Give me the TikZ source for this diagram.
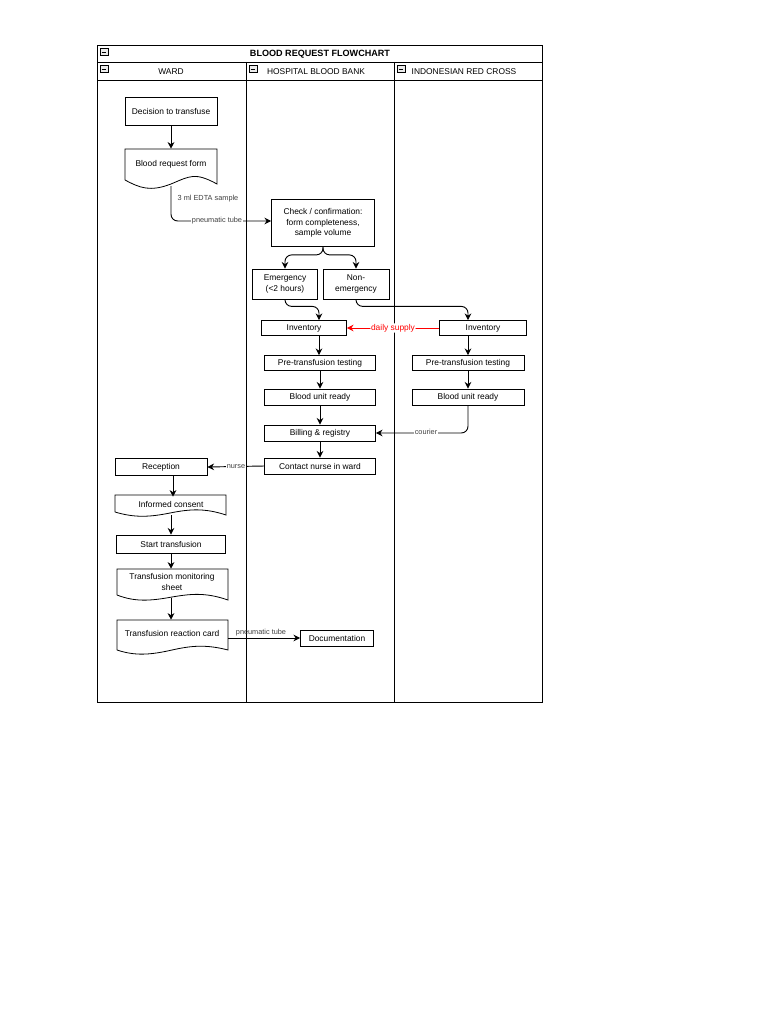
\documentclass[tikz,border=0pt]{standalone}
\usepackage{fontspec}
\setmainfont{Liberation Sans}
\usetikzlibrary{arrows.meta}
\begin{document}
\begin{tikzpicture}[x=0.75pt,y=-0.75pt,
  font=\fontsize{6.3}{7.8}\selectfont,
  box/.style={draw,line width=0.6pt,align=center,inner sep=1pt},
  doc/.style={align=center,inner sep=1pt},
  arr/.style={-{Stealth[length=5pt,width=5pt]},line width=0.7pt,rounded corners=5pt},
  lbl/.style={font=\fontsize{5.5}{6.5}\selectfont,text=black!75,fill=white,inner sep=0.5pt},
  icon/.style={draw,fill=black!8,minimum width=6pt,minimum height=5pt,inner sep=0pt,
    path picture={\draw ([xshift=1.2pt]path picture bounding box.west) -- ([xshift=-1.2pt]path picture bounding box.east);}}]
\useasboundingbox (0,0) rectangle (768,1024);
\fill[white] (0,0) rectangle (768,1024);
% frame
\draw[line width=0.7pt] (97,45) rectangle (542,702);
\draw[line width=0.6pt] (97,62) -- (542,62) (97,80) -- (542,80);
\draw[line width=0.7pt] (246,62) -- (246,702) (394,62) -- (394,702);
\node[font=\fontsize{6.8}{8}\selectfont\bfseries] (title) at (320,54) {BLOOD REQUEST FLOWCHART};
\node (hw) at (171,72) {WARD};
\node (hb) at (316,72) {HOSPITAL BLOOD BANK};
\node (hr) at (464,72) {INDONESIAN RED CROSS};
\node[icon] (i1) at (104,52) {};
\node[icon] (i2) at (104,69) {};
\node[icon] (i3) at (253,69) {};
\node[icon] (i4) at (401,69) {};
% ward nodes
\node[box,minimum width={92*0.75pt},minimum height={28*0.75pt}] (dec) at (171,111) {Decision to transfuse};
\node[doc,minimum width={92*0.75pt},minimum height={30*0.75pt}] (form) at (171,164) {Blood request form};
\draw[line width=0.6pt] (125,180) -- (125,149) -- (217,149) -- (217,184) .. controls (195,172) and (190,176) .. (171,184) .. controls (150,192) and (140,188) .. (125,180);
\node[box,minimum width={92*0.75pt},minimum height={17*0.75pt}] (rec) at (161,467) {Reception};
\node[doc,minimum width={111*0.75pt},minimum height={14*0.75pt}] (cons) at (171,504) {Informed consent};
\draw[line width=0.6pt] (115,512) -- (115,495) -- (226,495) -- (226,515) .. controls (205,508) and (190,509) .. (170,513) .. controls (150,517) and (135,518) .. (115,512);
\node[box,minimum width={109*0.75pt},minimum height={18*0.75pt}] (start) at (171,544) {Start transfusion};
\node[doc,minimum width={111*0.75pt},minimum height={26*0.75pt}] (mon) at (172,582) {Transfusion monitoring\\sheet};
\draw[line width=0.6pt] (117,595) -- (117,569) -- (228,569) -- (228,600) .. controls (205,592) and (190,594) .. (172,597) .. controls (150,601) and (135,602) .. (117,595);
\node[doc,minimum width={111*0.75pt},minimum height={26*0.75pt}] (card) at (172,633) {Transfusion reaction card};
\draw[line width=0.6pt] (117,650) -- (117,620) -- (228,620) -- (228,650) .. controls (205,644) and (190,646) .. (172,650) .. controls (150,655) and (135,656) .. (117,650);
% blood bank
\node[box,minimum width={103*0.75pt},minimum height={47*0.75pt}] (chk) at (323,223) {Check / confirmation:\\form completeness,\\sample volume};
\node[box,minimum width={65*0.75pt},minimum height={30*0.75pt}] (em) at (285,284) {Emergency\\(<2 hours)};
\node[box,minimum width={66*0.75pt},minimum height={30*0.75pt}] (nem) at (356,284) {Non-\\emergency};
\node[box,minimum width={85*0.75pt},minimum height={15*0.75pt}] (inv1) at (304,328) {Inventory};
\node[box,minimum width={111*0.75pt},minimum height={15*0.75pt}] (pre1) at (320,363) {Pre-transfusion testing};
\node[box,minimum width={111*0.75pt},minimum height={16*0.75pt}] (bur1) at (320,397) {Blood unit ready};
\node[box,minimum width={111*0.75pt},minimum height={16*0.75pt}] (bill) at (320,433) {Billing \& registry};
\node[box,minimum width={111*0.75pt},minimum height={16*0.75pt}] (cont) at (320,466) {Contact nurse in ward};
\node[box,minimum width={73*0.75pt},minimum height={16*0.75pt}] (docu) at (337,638) {Documentation};
% red cross
\node[box,minimum width={87*0.75pt},minimum height={15*0.75pt}] (inv2) at (483,328) {Inventory};
\node[box,minimum width={112*0.75pt},minimum height={15*0.75pt}] (pre2) at (468,363) {Pre-transfusion testing};
\node[box,minimum width={112*0.75pt},minimum height={16*0.75pt}] (bur2) at (468,397) {Blood unit ready};
% connectors
\draw[arr] (dec) -- (form);
\draw[arr] (171,186) -- (171,221) -- (chk.west |- 0,221);
\node[lbl] (l1) at (208,199) {3 ml EDTA sample};
\node[lbl] (l2) at (217,221) {pneumatic tube};
\draw[arr] (chk.south) -- ++(0,8) -| (em.north);
\draw[arr] (chk.south) -- ++(0,8) -| (nem.north);
\draw[arr] (em.south) -- ++(0,7) -| (inv1.north -| 319,0);
\draw[arr] (nem.south) -- ++(0,7) -| (inv2.north -| 468,0);
\draw[arr,red] (inv2.west) -- (inv1.east) node[midway,fill=white,inner sep=0.5pt,font=\fontsize{6.3}{7.5}\selectfont] {daily supply};
\draw[arr] (inv1.south -| 319,0) -- (pre1.north -| 319,0);
\draw[arr] (pre1) -- (bur1);
\draw[arr] (bur1) -- (bill);
\draw[arr] (bill) -- (cont);
\draw[arr] (inv2.south -| 468,0) -- (pre2);
\draw[arr] (pre2) -- (bur2);
\draw[arr] (bur2.south) |- (bill.east);
\node[lbl] (l3) at (426,432) {courier};
\draw[arr] (cont.west) -- (rec.east);
\node[lbl] (l4) at (236,467) {nurse};
\draw[arr] (rec.south -| 173,0) -- (cons.north -| 173,0);
\draw[arr] (171,515) -- (start.north);
\draw[arr] (start.south) -- (mon.north -| 171,0);
\draw[arr] (171,598) -- (card.north -| 171,0);
\draw[arr] (card.east |- 0,638) -- (docu.west);
\node[lbl,fill=none] (l5) at (261,633) {pneumatic tube};
\end{tikzpicture}
\end{document}
